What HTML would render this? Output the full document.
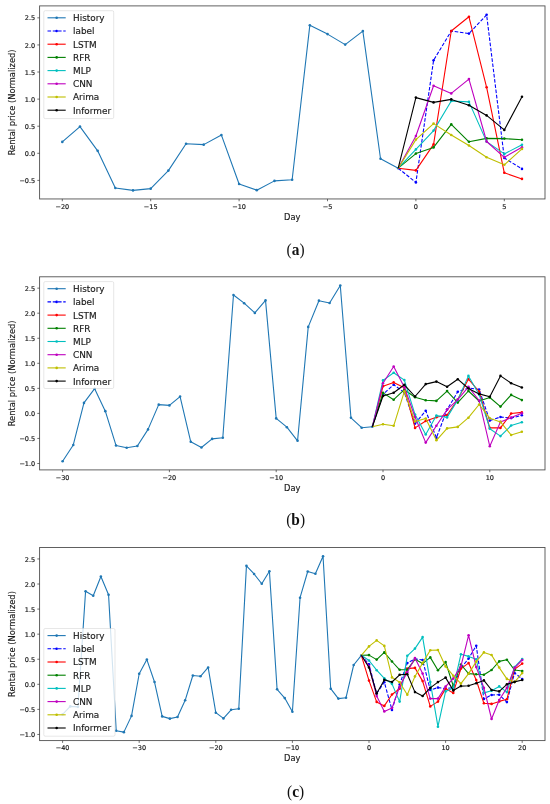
<!DOCTYPE html>
<html lang="en">
<head>
<meta charset="utf-8">
<title>Rental price forecasts</title>
<style>
html,body{margin:0;padding:0;background:#ffffff;}
body{width:550px;height:804px;overflow:hidden;}
svg{display:block;}
</style>
</head>
<body>
<svg width="550" height="804" viewBox="0 0 550 804">
<rect width="550" height="804" fill="#ffffff"/>
<g id="chart1">
<clipPath id="clip1"><rect x="39.6" y="5.9" width="505.4" height="193.05"/></clipPath>
<g clip-path="url(#clip1)">
<polyline points="62.3,141.92 79.98,126.59 97.66,150.86 115.34,187.98 133.02,190.41 150.7,188.63 168.38,170.58 186.06,143.82 203.74,144.63 221.42,135.1 239.1,183.97 256.78,190.14 274.46,180.88 292.14,179.69 309.82,25.33 327.5,34.1 345.18,44.61 362.86,31.12 380.54,158.72 398.22,168.2" fill="none" stroke="#1f77b4" stroke-width="1.1" stroke-linejoin="round"/>
<g fill="#1f77b4"><circle cx="62.3" cy="141.92" r="1.3"/><circle cx="79.98" cy="126.59" r="1.3"/><circle cx="97.66" cy="150.86" r="1.3"/><circle cx="115.34" cy="187.98" r="1.3"/><circle cx="133.02" cy="190.41" r="1.3"/><circle cx="150.7" cy="188.63" r="1.3"/><circle cx="168.38" cy="170.58" r="1.3"/><circle cx="186.06" cy="143.82" r="1.3"/><circle cx="203.74" cy="144.63" r="1.3"/><circle cx="221.42" cy="135.1" r="1.3"/><circle cx="239.1" cy="183.97" r="1.3"/><circle cx="256.78" cy="190.14" r="1.3"/><circle cx="274.46" cy="180.88" r="1.3"/><circle cx="292.14" cy="179.69" r="1.3"/><circle cx="309.82" cy="25.33" r="1.3"/><circle cx="327.5" cy="34.1" r="1.3"/><circle cx="345.18" cy="44.61" r="1.3"/><circle cx="362.86" cy="31.12" r="1.3"/><circle cx="380.54" cy="158.72" r="1.3"/><circle cx="398.22" cy="168.2" r="1.3"/></g>
<polyline points="398.22,168.2 415.9,182.4 433.58,60.3 451.26,31 468.94,33.6 486.62,14.8 504.3,158 521.98,168.9" fill="none" stroke="#0000ff" stroke-width="1.1" stroke-linejoin="round" stroke-dasharray="3.6 1.65"/>
<g fill="#0000ff"><circle cx="415.9" cy="182.4" r="1.3"/><circle cx="433.58" cy="60.3" r="1.3"/><circle cx="451.26" cy="31" r="1.3"/><circle cx="468.94" cy="33.6" r="1.3"/><circle cx="486.62" cy="14.8" r="1.3"/><circle cx="504.3" cy="158" r="1.3"/><circle cx="521.98" cy="168.9" r="1.3"/></g>
<polyline points="398.22,168.2 415.9,170.4 433.58,144.4 451.26,31 468.94,16.8 486.62,87.3 504.3,172.8 521.98,178.9" fill="none" stroke="#ff0000" stroke-width="1.1" stroke-linejoin="round"/>
<g fill="#ff0000"><circle cx="415.9" cy="170.4" r="1.3"/><circle cx="433.58" cy="144.4" r="1.3"/><circle cx="451.26" cy="31" r="1.3"/><circle cx="468.94" cy="16.8" r="1.3"/><circle cx="486.62" cy="87.3" r="1.3"/><circle cx="504.3" cy="172.8" r="1.3"/><circle cx="521.98" cy="178.9" r="1.3"/></g>
<polyline points="398.22,168.2 415.9,153.6 433.58,147.4 451.26,124.4 468.94,141.8 486.62,138.4 504.3,138.6 521.98,139.7" fill="none" stroke="#008000" stroke-width="1.1" stroke-linejoin="round"/>
<g fill="#008000"><circle cx="415.9" cy="153.6" r="1.3"/><circle cx="433.58" cy="147.4" r="1.3"/><circle cx="451.26" cy="124.4" r="1.3"/><circle cx="468.94" cy="141.8" r="1.3"/><circle cx="486.62" cy="138.4" r="1.3"/><circle cx="504.3" cy="138.6" r="1.3"/><circle cx="521.98" cy="139.7" r="1.3"/></g>
<polyline points="398.22,168.2 415.9,149.4 433.58,130.6 451.26,101 468.94,101.9 486.62,141.6 504.3,153.9 521.98,144.8" fill="none" stroke="#00bfbf" stroke-width="1.1" stroke-linejoin="round"/>
<g fill="#00bfbf"><circle cx="415.9" cy="149.4" r="1.3"/><circle cx="433.58" cy="130.6" r="1.3"/><circle cx="451.26" cy="101" r="1.3"/><circle cx="468.94" cy="101.9" r="1.3"/><circle cx="486.62" cy="141.6" r="1.3"/><circle cx="504.3" cy="153.9" r="1.3"/><circle cx="521.98" cy="144.8" r="1.3"/></g>
<polyline points="398.22,168.2 415.9,136 433.58,85.8 451.26,93.4 468.94,79.1 486.62,141.5 504.3,157.3 521.98,147.2" fill="none" stroke="#bf00bf" stroke-width="1.1" stroke-linejoin="round"/>
<g fill="#bf00bf"><circle cx="415.9" cy="136" r="1.3"/><circle cx="433.58" cy="85.8" r="1.3"/><circle cx="451.26" cy="93.4" r="1.3"/><circle cx="468.94" cy="79.1" r="1.3"/><circle cx="486.62" cy="141.5" r="1.3"/><circle cx="504.3" cy="157.3" r="1.3"/><circle cx="521.98" cy="147.2" r="1.3"/></g>
<polyline points="398.22,168.2 415.9,139.6 433.58,123.6 451.26,135 468.94,145.5 486.62,157.2 504.3,164.8 521.98,148.9" fill="none" stroke="#bfbf00" stroke-width="1.1" stroke-linejoin="round"/>
<g fill="#bfbf00"><circle cx="415.9" cy="139.6" r="1.3"/><circle cx="433.58" cy="123.6" r="1.3"/><circle cx="451.26" cy="135" r="1.3"/><circle cx="468.94" cy="145.5" r="1.3"/><circle cx="486.62" cy="157.2" r="1.3"/><circle cx="504.3" cy="164.8" r="1.3"/><circle cx="521.98" cy="148.9" r="1.3"/></g>
<polyline points="398.22,168.2 415.9,97.6 433.58,102.4 451.26,99.4 468.94,105.3 486.62,115.4 504.3,129.9 521.98,96.8" fill="none" stroke="#000000" stroke-width="1.1" stroke-linejoin="round"/>
<g fill="#000000"><circle cx="415.9" cy="97.6" r="1.3"/><circle cx="433.58" cy="102.4" r="1.3"/><circle cx="451.26" cy="99.4" r="1.3"/><circle cx="468.94" cy="105.3" r="1.3"/><circle cx="486.62" cy="115.4" r="1.3"/><circle cx="504.3" cy="129.9" r="1.3"/><circle cx="521.98" cy="96.8" r="1.3"/></g>
</g>
<rect x="39.6" y="5.9" width="505.4" height="193.05" fill="none" stroke="#505050" stroke-width="0.9"/>
<path d="M62.3 198.95v2.3M150.7 198.95v2.3M239.1 198.95v2.3M327.5 198.95v2.3M415.9 198.95v2.3M504.3 198.95v2.3M39.6 180.39h-2.3M39.6 153.3h-2.3M39.6 126.21h-2.3M39.6 99.12h-2.3M39.6 72.03h-2.3M39.6 44.94h-2.3M39.6 17.85h-2.3" stroke="#333333" stroke-width="0.7" fill="none"/>
<g font-family="'DejaVu Sans','Liberation Sans',sans-serif" font-size="6.5" fill="#1a1a1a" stroke="#1a1a1a" stroke-width="0.18">
<text x="62.3" y="208.75" text-anchor="middle">−20</text>
<text x="150.7" y="208.75" text-anchor="middle">−15</text>
<text x="239.1" y="208.75" text-anchor="middle">−10</text>
<text x="327.5" y="208.75" text-anchor="middle">−5</text>
<text x="415.9" y="208.75" text-anchor="middle">0</text>
<text x="504.3" y="208.75" text-anchor="middle">5</text>
<text x="35.2" y="182.99" text-anchor="end">−0.5</text>
<text x="35.2" y="155.9" text-anchor="end">0.0</text>
<text x="35.2" y="128.81" text-anchor="end">0.5</text>
<text x="35.2" y="101.72" text-anchor="end">1.0</text>
<text x="35.2" y="74.63" text-anchor="end">1.5</text>
<text x="35.2" y="47.54" text-anchor="end">2.0</text>
<text x="35.2" y="20.45" text-anchor="end">2.5</text>
</g>
<g font-family="'DejaVu Sans','Liberation Sans',sans-serif" font-size="8.3" fill="#1a1a1a" stroke="#1a1a1a" stroke-width="0.15" text-anchor="middle">
<text x="292.3" y="219.55">Day</text>
<text transform="translate(14.8 102.42) rotate(-90)">Rental price (Normalized)</text>
</g>
<rect x="43.8" y="10.7" width="69.9" height="107.9" rx="1.4" fill="#ffffff" fill-opacity="0.8" stroke="#cccccc" stroke-opacity="0.8" stroke-width="0.6"/>
<g font-family="'DejaVu Sans','Liberation Sans',sans-serif" font-size="8.9" fill="#1a1a1a" stroke-width="0.15">
<path d="M47.5 17.8H65.7" stroke="#1f77b4" stroke-width="1.1"/>
<circle cx="56.65" cy="17.8" r="1.3" fill="#1f77b4"/>
<text x="73" y="21.2" stroke="#1a1a1a">History</text>
<path d="M47.5 31H65.7" stroke="#0000ff" stroke-width="1.1" stroke-dasharray="3.6 1.65"/>
<circle cx="56.65" cy="31" r="1.3" fill="#0000ff"/>
<text x="73" y="34.4" stroke="#1a1a1a">label</text>
<path d="M47.5 44.2H65.7" stroke="#ff0000" stroke-width="1.1"/>
<circle cx="56.65" cy="44.2" r="1.3" fill="#ff0000"/>
<text x="73" y="47.6" stroke="#1a1a1a">LSTM</text>
<path d="M47.5 57.4H65.7" stroke="#008000" stroke-width="1.1"/>
<circle cx="56.65" cy="57.4" r="1.3" fill="#008000"/>
<text x="73" y="60.8" stroke="#1a1a1a">RFR</text>
<path d="M47.5 70.6H65.7" stroke="#00bfbf" stroke-width="1.1"/>
<circle cx="56.65" cy="70.6" r="1.3" fill="#00bfbf"/>
<text x="73" y="74" stroke="#1a1a1a">MLP</text>
<path d="M47.5 83.8H65.7" stroke="#bf00bf" stroke-width="1.1"/>
<circle cx="56.65" cy="83.8" r="1.3" fill="#bf00bf"/>
<text x="73" y="87.2" stroke="#1a1a1a">CNN</text>
<path d="M47.5 97H65.7" stroke="#bfbf00" stroke-width="1.1"/>
<circle cx="56.65" cy="97" r="1.3" fill="#bfbf00"/>
<text x="73" y="100.4" stroke="#1a1a1a">Arima</text>
<path d="M47.5 110.2H65.7" stroke="#000000" stroke-width="1.1"/>
<circle cx="56.65" cy="110.2" r="1.3" fill="#000000"/>
<text x="73" y="113.6" stroke="#1a1a1a">Informer</text>
</g>
<text transform="translate(295.6 254.9) scale(0.97 1)" text-anchor="middle" font-family="'Liberation Serif','DejaVu Serif',serif" font-size="15.9" fill="#111111">(<tspan font-weight="bold">a</tspan>)</text>
</g>
<g id="chart2">
<clipPath id="clip2"><rect x="39.6" y="276.8" width="505.4" height="193.1"/></clipPath>
<g clip-path="url(#clip2)">
<polyline points="62.6,461.2 73.28,444.96 83.96,402.88 94.64,388.7 105.32,411.15 116,445.46 126.68,447.72 137.36,446.07 148.04,429.38 158.72,404.63 169.4,405.38 180.08,396.57 190.76,441.76 201.44,447.47 212.12,438.9 222.8,437.8 233.48,295.06 244.16,303.18 254.84,312.9 265.52,300.42 276.2,418.41 286.88,427.18 297.56,440.8 308.24,326.88 318.92,300.67 329.6,302.98 340.28,285.49 350.96,417.81 361.64,427.68 372.32,426.78" fill="none" stroke="#1f77b4" stroke-width="1.1" stroke-linejoin="round"/>
<g fill="#1f77b4"><circle cx="62.6" cy="461.2" r="1.3"/><circle cx="73.28" cy="444.96" r="1.3"/><circle cx="83.96" cy="402.88" r="1.3"/><circle cx="94.64" cy="388.7" r="1.3"/><circle cx="105.32" cy="411.15" r="1.3"/><circle cx="116" cy="445.46" r="1.3"/><circle cx="126.68" cy="447.72" r="1.3"/><circle cx="137.36" cy="446.07" r="1.3"/><circle cx="148.04" cy="429.38" r="1.3"/><circle cx="158.72" cy="404.63" r="1.3"/><circle cx="169.4" cy="405.38" r="1.3"/><circle cx="180.08" cy="396.57" r="1.3"/><circle cx="190.76" cy="441.76" r="1.3"/><circle cx="201.44" cy="447.47" r="1.3"/><circle cx="212.12" cy="438.9" r="1.3"/><circle cx="222.8" cy="437.8" r="1.3"/><circle cx="233.48" cy="295.06" r="1.3"/><circle cx="244.16" cy="303.18" r="1.3"/><circle cx="254.84" cy="312.9" r="1.3"/><circle cx="265.52" cy="300.42" r="1.3"/><circle cx="276.2" cy="418.41" r="1.3"/><circle cx="286.88" cy="427.18" r="1.3"/><circle cx="297.56" cy="440.8" r="1.3"/><circle cx="308.24" cy="326.88" r="1.3"/><circle cx="318.92" cy="300.67" r="1.3"/><circle cx="329.6" cy="302.98" r="1.3"/><circle cx="340.28" cy="285.49" r="1.3"/><circle cx="350.96" cy="417.81" r="1.3"/><circle cx="361.64" cy="427.68" r="1.3"/><circle cx="372.32" cy="426.78" r="1.3"/></g>
<polyline points="372.32,426.78 383,394.3 393.68,384.7 404.36,392.5 415.04,423.6 425.72,410.8 436.4,437.8 447.08,409.6 457.76,391.8 468.44,387.9 479.12,389.5 489.8,420.6 500.48,417 511.16,418.1 521.84,415.3" fill="none" stroke="#0000ff" stroke-width="1.1" stroke-linejoin="round" stroke-dasharray="3.6 1.65"/>
<g fill="#0000ff"><circle cx="383" cy="394.3" r="1.3"/><circle cx="393.68" cy="384.7" r="1.3"/><circle cx="404.36" cy="392.5" r="1.3"/><circle cx="415.04" cy="423.6" r="1.3"/><circle cx="425.72" cy="410.8" r="1.3"/><circle cx="436.4" cy="437.8" r="1.3"/><circle cx="447.08" cy="409.6" r="1.3"/><circle cx="457.76" cy="391.8" r="1.3"/><circle cx="468.44" cy="387.9" r="1.3"/><circle cx="479.12" cy="389.5" r="1.3"/><circle cx="489.8" cy="420.6" r="1.3"/><circle cx="500.48" cy="417" r="1.3"/><circle cx="511.16" cy="418.1" r="1.3"/><circle cx="521.84" cy="415.3" r="1.3"/></g>
<polyline points="372.32,426.78 383,386.3 393.68,382.4 404.36,387.7 415.04,427.9 425.72,421 436.4,417.3 447.08,415 457.76,399.6 468.44,379.1 479.12,391.5 489.8,427.9 500.48,427.9 511.16,413.5 521.84,412.4" fill="none" stroke="#ff0000" stroke-width="1.1" stroke-linejoin="round"/>
<g fill="#ff0000"><circle cx="383" cy="386.3" r="1.3"/><circle cx="393.68" cy="382.4" r="1.3"/><circle cx="404.36" cy="387.7" r="1.3"/><circle cx="415.04" cy="427.9" r="1.3"/><circle cx="425.72" cy="421" r="1.3"/><circle cx="436.4" cy="417.3" r="1.3"/><circle cx="447.08" cy="415" r="1.3"/><circle cx="457.76" cy="399.6" r="1.3"/><circle cx="468.44" cy="379.1" r="1.3"/><circle cx="479.12" cy="391.5" r="1.3"/><circle cx="489.8" cy="427.9" r="1.3"/><circle cx="500.48" cy="427.9" r="1.3"/><circle cx="511.16" cy="413.5" r="1.3"/><circle cx="521.84" cy="412.4" r="1.3"/></g>
<polyline points="372.32,426.78 383,392.9 393.68,399.7 404.36,389.7 415.04,397.3 425.72,400.3 436.4,400.9 447.08,391.1 457.76,402.6 468.44,391 479.12,401 489.8,397.5 500.48,406.6 511.16,394.9 521.84,400.1" fill="none" stroke="#008000" stroke-width="1.1" stroke-linejoin="round"/>
<g fill="#008000"><circle cx="383" cy="392.9" r="1.3"/><circle cx="393.68" cy="399.7" r="1.3"/><circle cx="404.36" cy="389.7" r="1.3"/><circle cx="415.04" cy="397.3" r="1.3"/><circle cx="425.72" cy="400.3" r="1.3"/><circle cx="436.4" cy="400.9" r="1.3"/><circle cx="447.08" cy="391.1" r="1.3"/><circle cx="457.76" cy="402.6" r="1.3"/><circle cx="468.44" cy="391" r="1.3"/><circle cx="479.12" cy="401" r="1.3"/><circle cx="489.8" cy="397.5" r="1.3"/><circle cx="500.48" cy="406.6" r="1.3"/><circle cx="511.16" cy="394.9" r="1.3"/><circle cx="521.84" cy="400.1" r="1.3"/></g>
<polyline points="372.32,426.78 383,380.4 393.68,372.7 404.36,380.1 415.04,414.6 425.72,434.5 436.4,415.6 447.08,417.4 457.76,399.9 468.44,375.9 479.12,394.4 489.8,428.7 500.48,436.1 511.16,425.5 521.84,422.2" fill="none" stroke="#00bfbf" stroke-width="1.1" stroke-linejoin="round"/>
<g fill="#00bfbf"><circle cx="383" cy="380.4" r="1.3"/><circle cx="393.68" cy="372.7" r="1.3"/><circle cx="404.36" cy="380.1" r="1.3"/><circle cx="415.04" cy="414.6" r="1.3"/><circle cx="425.72" cy="434.5" r="1.3"/><circle cx="436.4" cy="415.6" r="1.3"/><circle cx="447.08" cy="417.4" r="1.3"/><circle cx="457.76" cy="399.9" r="1.3"/><circle cx="468.44" cy="375.9" r="1.3"/><circle cx="479.12" cy="394.4" r="1.3"/><circle cx="489.8" cy="428.7" r="1.3"/><circle cx="500.48" cy="436.1" r="1.3"/><circle cx="511.16" cy="425.5" r="1.3"/><circle cx="521.84" cy="422.2" r="1.3"/></g>
<polyline points="372.32,426.78 383,383.3 393.68,366.5 404.36,387.2 415.04,417 425.72,442.6 436.4,425.8 447.08,409.6 457.76,399.6 468.44,386.9 479.12,400.5 489.8,446.3 500.48,421.9 511.16,417.6 521.84,413.2" fill="none" stroke="#bf00bf" stroke-width="1.1" stroke-linejoin="round"/>
<g fill="#bf00bf"><circle cx="383" cy="383.3" r="1.3"/><circle cx="393.68" cy="366.5" r="1.3"/><circle cx="404.36" cy="387.2" r="1.3"/><circle cx="415.04" cy="417" r="1.3"/><circle cx="425.72" cy="442.6" r="1.3"/><circle cx="436.4" cy="425.8" r="1.3"/><circle cx="447.08" cy="409.6" r="1.3"/><circle cx="457.76" cy="399.6" r="1.3"/><circle cx="468.44" cy="386.9" r="1.3"/><circle cx="479.12" cy="400.5" r="1.3"/><circle cx="489.8" cy="446.3" r="1.3"/><circle cx="500.48" cy="421.9" r="1.3"/><circle cx="511.16" cy="417.6" r="1.3"/><circle cx="521.84" cy="413.2" r="1.3"/></g>
<polyline points="372.32,426.78 383,424.3 393.68,425.8 404.36,391.3 415.04,421.5 425.72,418.5 436.4,440.3 447.08,428.4 457.76,426.9 468.44,417.7 479.12,404.5 489.8,418.2 500.48,421.9 511.16,435 521.84,431.7" fill="none" stroke="#bfbf00" stroke-width="1.1" stroke-linejoin="round"/>
<g fill="#bfbf00"><circle cx="383" cy="424.3" r="1.3"/><circle cx="393.68" cy="425.8" r="1.3"/><circle cx="404.36" cy="391.3" r="1.3"/><circle cx="415.04" cy="421.5" r="1.3"/><circle cx="425.72" cy="418.5" r="1.3"/><circle cx="436.4" cy="440.3" r="1.3"/><circle cx="447.08" cy="428.4" r="1.3"/><circle cx="457.76" cy="426.9" r="1.3"/><circle cx="468.44" cy="417.7" r="1.3"/><circle cx="479.12" cy="404.5" r="1.3"/><circle cx="489.8" cy="418.2" r="1.3"/><circle cx="500.48" cy="421.9" r="1.3"/><circle cx="511.16" cy="435" r="1.3"/><circle cx="521.84" cy="431.7" r="1.3"/></g>
<polyline points="372.32,426.78 383,396 393.68,392.8 404.36,384.8 415.04,396.5 425.72,384.1 436.4,381.6 447.08,386.7 457.76,379.2 468.44,388.5 479.12,393.9 489.8,396.8 500.48,375.9 511.16,383.2 521.84,387.5" fill="none" stroke="#000000" stroke-width="1.1" stroke-linejoin="round"/>
<g fill="#000000"><circle cx="383" cy="396" r="1.3"/><circle cx="393.68" cy="392.8" r="1.3"/><circle cx="404.36" cy="384.8" r="1.3"/><circle cx="415.04" cy="396.5" r="1.3"/><circle cx="425.72" cy="384.1" r="1.3"/><circle cx="436.4" cy="381.6" r="1.3"/><circle cx="447.08" cy="386.7" r="1.3"/><circle cx="457.76" cy="379.2" r="1.3"/><circle cx="468.44" cy="388.5" r="1.3"/><circle cx="479.12" cy="393.9" r="1.3"/><circle cx="489.8" cy="396.8" r="1.3"/><circle cx="500.48" cy="375.9" r="1.3"/><circle cx="511.16" cy="383.2" r="1.3"/><circle cx="521.84" cy="387.5" r="1.3"/></g>
</g>
<rect x="39.6" y="276.8" width="505.4" height="193.1" fill="none" stroke="#505050" stroke-width="0.9"/>
<path d="M62.6 469.9v2.3M169.4 469.9v2.3M276.2 469.9v2.3M383 469.9v2.3M489.8 469.9v2.3M39.6 463.5h-2.3M39.6 438.45h-2.3M39.6 413.4h-2.3M39.6 388.35h-2.3M39.6 363.3h-2.3M39.6 338.25h-2.3M39.6 313.2h-2.3M39.6 288.15h-2.3" stroke="#333333" stroke-width="0.7" fill="none"/>
<g font-family="'DejaVu Sans','Liberation Sans',sans-serif" font-size="6.5" fill="#1a1a1a" stroke="#1a1a1a" stroke-width="0.18">
<text x="62.6" y="479.7" text-anchor="middle">−30</text>
<text x="169.4" y="479.7" text-anchor="middle">−20</text>
<text x="276.2" y="479.7" text-anchor="middle">−10</text>
<text x="383" y="479.7" text-anchor="middle">0</text>
<text x="489.8" y="479.7" text-anchor="middle">10</text>
<text x="35.2" y="466.1" text-anchor="end">−1.0</text>
<text x="35.2" y="441.05" text-anchor="end">−0.5</text>
<text x="35.2" y="416" text-anchor="end">0.0</text>
<text x="35.2" y="390.95" text-anchor="end">0.5</text>
<text x="35.2" y="365.9" text-anchor="end">1.0</text>
<text x="35.2" y="340.85" text-anchor="end">1.5</text>
<text x="35.2" y="315.8" text-anchor="end">2.0</text>
<text x="35.2" y="290.75" text-anchor="end">2.5</text>
</g>
<g font-family="'DejaVu Sans','Liberation Sans',sans-serif" font-size="8.3" fill="#1a1a1a" stroke="#1a1a1a" stroke-width="0.15" text-anchor="middle">
<text x="292.3" y="490.5">Day</text>
<text transform="translate(14.8 373.35) rotate(-90)">Rental price (Normalized)</text>
</g>
<rect x="43.8" y="281.6" width="69.9" height="106.9" rx="1.4" fill="#ffffff" fill-opacity="0.8" stroke="#cccccc" stroke-opacity="0.8" stroke-width="0.6"/>
<g font-family="'DejaVu Sans','Liberation Sans',sans-serif" font-size="8.9" fill="#1a1a1a" stroke-width="0.15">
<path d="M47.5 288.7H65.7" stroke="#1f77b4" stroke-width="1.1"/>
<circle cx="56.65" cy="288.7" r="1.3" fill="#1f77b4"/>
<text x="73" y="292.1" stroke="#1a1a1a">History</text>
<path d="M47.5 301.9H65.7" stroke="#0000ff" stroke-width="1.1" stroke-dasharray="3.6 1.65"/>
<circle cx="56.65" cy="301.9" r="1.3" fill="#0000ff"/>
<text x="73" y="305.3" stroke="#1a1a1a">label</text>
<path d="M47.5 315.1H65.7" stroke="#ff0000" stroke-width="1.1"/>
<circle cx="56.65" cy="315.1" r="1.3" fill="#ff0000"/>
<text x="73" y="318.5" stroke="#1a1a1a">LSTM</text>
<path d="M47.5 328.3H65.7" stroke="#008000" stroke-width="1.1"/>
<circle cx="56.65" cy="328.3" r="1.3" fill="#008000"/>
<text x="73" y="331.7" stroke="#1a1a1a">RFR</text>
<path d="M47.5 341.5H65.7" stroke="#00bfbf" stroke-width="1.1"/>
<circle cx="56.65" cy="341.5" r="1.3" fill="#00bfbf"/>
<text x="73" y="344.9" stroke="#1a1a1a">MLP</text>
<path d="M47.5 354.7H65.7" stroke="#bf00bf" stroke-width="1.1"/>
<circle cx="56.65" cy="354.7" r="1.3" fill="#bf00bf"/>
<text x="73" y="358.1" stroke="#1a1a1a">CNN</text>
<path d="M47.5 367.9H65.7" stroke="#bfbf00" stroke-width="1.1"/>
<circle cx="56.65" cy="367.9" r="1.3" fill="#bfbf00"/>
<text x="73" y="371.3" stroke="#1a1a1a">Arima</text>
<path d="M47.5 381.1H65.7" stroke="#000000" stroke-width="1.1"/>
<circle cx="56.65" cy="381.1" r="1.3" fill="#000000"/>
<text x="73" y="384.5" stroke="#1a1a1a">Informer</text>
</g>
<text transform="translate(295.6 525.1) scale(0.97 1)" text-anchor="middle" font-family="'Liberation Serif','DejaVu Serif',serif" font-size="15.9" fill="#111111">(<tspan font-weight="bold">b</tspan>)</text>
</g>
<g id="chart3">
<clipPath id="clip3"><rect x="39.6" y="547.5" width="505.4" height="193.1"/></clipPath>
<g clip-path="url(#clip3)">
<polyline points="62.6,714.38 70.26,706.36 77.92,706.86 85.58,591.19 93.24,595.7 100.9,576.45 108.56,594.7 116.22,730.73 123.88,732.13 131.54,715.89 139.2,673.77 146.86,659.58 154.52,682.04 162.18,716.39 169.84,718.65 177.5,716.99 185.16,700.29 192.82,675.53 200.48,676.28 208.14,667.45 215.8,712.68 223.46,718.4 231.12,709.82 238.78,708.72 246.44,565.87 254.1,573.99 261.76,583.72 269.42,571.23 277.08,689.31 284.74,698.09 292.4,711.73 300.06,597.71 307.72,571.48 315.38,573.79 323.04,556.29 330.7,688.71 338.36,698.59 346.02,697.69 353.68,665 361.34,655.32" fill="none" stroke="#1f77b4" stroke-width="1.1" stroke-linejoin="round"/>
<g fill="#1f77b4"><circle cx="62.6" cy="714.38" r="1.3"/><circle cx="70.26" cy="706.36" r="1.3"/><circle cx="77.92" cy="706.86" r="1.3"/><circle cx="85.58" cy="591.19" r="1.3"/><circle cx="93.24" cy="595.7" r="1.3"/><circle cx="100.9" cy="576.45" r="1.3"/><circle cx="108.56" cy="594.7" r="1.3"/><circle cx="116.22" cy="730.73" r="1.3"/><circle cx="123.88" cy="732.13" r="1.3"/><circle cx="131.54" cy="715.89" r="1.3"/><circle cx="139.2" cy="673.77" r="1.3"/><circle cx="146.86" cy="659.58" r="1.3"/><circle cx="154.52" cy="682.04" r="1.3"/><circle cx="162.18" cy="716.39" r="1.3"/><circle cx="169.84" cy="718.65" r="1.3"/><circle cx="177.5" cy="716.99" r="1.3"/><circle cx="185.16" cy="700.29" r="1.3"/><circle cx="192.82" cy="675.53" r="1.3"/><circle cx="200.48" cy="676.28" r="1.3"/><circle cx="208.14" cy="667.45" r="1.3"/><circle cx="215.8" cy="712.68" r="1.3"/><circle cx="223.46" cy="718.4" r="1.3"/><circle cx="231.12" cy="709.82" r="1.3"/><circle cx="238.78" cy="708.72" r="1.3"/><circle cx="246.44" cy="565.87" r="1.3"/><circle cx="254.1" cy="573.99" r="1.3"/><circle cx="261.76" cy="583.72" r="1.3"/><circle cx="269.42" cy="571.23" r="1.3"/><circle cx="277.08" cy="689.31" r="1.3"/><circle cx="284.74" cy="698.09" r="1.3"/><circle cx="292.4" cy="711.73" r="1.3"/><circle cx="300.06" cy="597.71" r="1.3"/><circle cx="307.72" cy="571.48" r="1.3"/><circle cx="315.38" cy="573.79" r="1.3"/><circle cx="323.04" cy="556.29" r="1.3"/><circle cx="330.7" cy="688.71" r="1.3"/><circle cx="338.36" cy="698.59" r="1.3"/><circle cx="346.02" cy="697.69" r="1.3"/><circle cx="353.68" cy="665" r="1.3"/><circle cx="361.34" cy="655.32" r="1.3"/></g>
<polyline points="361.34,655.32 369,664.3 376.66,693.5 384.32,682.2 391.98,709.9 399.64,684.5 407.3,663 414.96,658.9 422.62,660 430.28,690 437.94,687.6 445.6,688.6 453.26,687.5 460.92,667.9 468.58,658.6 476.24,645.7 483.9,699 491.56,695 499.22,694.7 506.88,702.1 514.54,672.9 522.2,679" fill="none" stroke="#0000ff" stroke-width="1.1" stroke-linejoin="round" stroke-dasharray="3.6 1.65"/>
<g fill="#0000ff"><circle cx="369" cy="664.3" r="1.3"/><circle cx="376.66" cy="693.5" r="1.3"/><circle cx="384.32" cy="682.2" r="1.3"/><circle cx="391.98" cy="709.9" r="1.3"/><circle cx="399.64" cy="684.5" r="1.3"/><circle cx="407.3" cy="663" r="1.3"/><circle cx="414.96" cy="658.9" r="1.3"/><circle cx="422.62" cy="660" r="1.3"/><circle cx="430.28" cy="690" r="1.3"/><circle cx="437.94" cy="687.6" r="1.3"/><circle cx="445.6" cy="688.6" r="1.3"/><circle cx="453.26" cy="687.5" r="1.3"/><circle cx="460.92" cy="667.9" r="1.3"/><circle cx="468.58" cy="658.6" r="1.3"/><circle cx="476.24" cy="645.7" r="1.3"/><circle cx="483.9" cy="699" r="1.3"/><circle cx="491.56" cy="695" r="1.3"/><circle cx="499.22" cy="694.7" r="1.3"/><circle cx="506.88" cy="702.1" r="1.3"/><circle cx="514.54" cy="672.9" r="1.3"/><circle cx="522.2" cy="679" r="1.3"/></g>
<polyline points="361.34,655.32 369,680.6 376.66,701.9 384.32,705.9 391.98,694.5 399.64,688.7 407.3,668.6 414.96,667.9 422.62,681.1 430.28,706.4 437.94,701.6 445.6,688.6 453.26,692.9 460.92,668.6 468.58,663.1 476.24,680 483.9,703.3 491.56,703.9 499.22,701.4 506.88,699.3 514.54,669.3 522.2,663.6" fill="none" stroke="#ff0000" stroke-width="1.1" stroke-linejoin="round"/>
<g fill="#ff0000"><circle cx="369" cy="680.6" r="1.3"/><circle cx="376.66" cy="701.9" r="1.3"/><circle cx="384.32" cy="705.9" r="1.3"/><circle cx="391.98" cy="694.5" r="1.3"/><circle cx="399.64" cy="688.7" r="1.3"/><circle cx="407.3" cy="668.6" r="1.3"/><circle cx="414.96" cy="667.9" r="1.3"/><circle cx="422.62" cy="681.1" r="1.3"/><circle cx="430.28" cy="706.4" r="1.3"/><circle cx="437.94" cy="701.6" r="1.3"/><circle cx="445.6" cy="688.6" r="1.3"/><circle cx="453.26" cy="692.9" r="1.3"/><circle cx="460.92" cy="668.6" r="1.3"/><circle cx="468.58" cy="663.1" r="1.3"/><circle cx="476.24" cy="680" r="1.3"/><circle cx="483.9" cy="703.3" r="1.3"/><circle cx="491.56" cy="703.9" r="1.3"/><circle cx="499.22" cy="701.4" r="1.3"/><circle cx="506.88" cy="699.3" r="1.3"/><circle cx="514.54" cy="669.3" r="1.3"/><circle cx="522.2" cy="663.6" r="1.3"/></g>
<polyline points="361.34,655.32 369,655.1 376.66,659.6 384.32,652.4 391.98,661.5 399.64,669.8 407.3,669.7 414.96,659.3 422.62,663.6 430.28,657.4 437.94,670.3 445.6,662.1 453.26,686 460.92,664.5 468.58,673.6 476.24,674.3 483.9,674.7 491.56,670 499.22,661.4 506.88,659.7 514.54,670 522.2,671" fill="none" stroke="#008000" stroke-width="1.1" stroke-linejoin="round"/>
<g fill="#008000"><circle cx="369" cy="655.1" r="1.3"/><circle cx="376.66" cy="659.6" r="1.3"/><circle cx="384.32" cy="652.4" r="1.3"/><circle cx="391.98" cy="661.5" r="1.3"/><circle cx="399.64" cy="669.8" r="1.3"/><circle cx="407.3" cy="669.7" r="1.3"/><circle cx="414.96" cy="659.3" r="1.3"/><circle cx="422.62" cy="663.6" r="1.3"/><circle cx="430.28" cy="657.4" r="1.3"/><circle cx="437.94" cy="670.3" r="1.3"/><circle cx="445.6" cy="662.1" r="1.3"/><circle cx="453.26" cy="686" r="1.3"/><circle cx="460.92" cy="664.5" r="1.3"/><circle cx="468.58" cy="673.6" r="1.3"/><circle cx="476.24" cy="674.3" r="1.3"/><circle cx="483.9" cy="674.7" r="1.3"/><circle cx="491.56" cy="670" r="1.3"/><circle cx="499.22" cy="661.4" r="1.3"/><circle cx="506.88" cy="659.7" r="1.3"/><circle cx="514.54" cy="670" r="1.3"/><circle cx="522.2" cy="671" r="1.3"/></g>
<polyline points="361.34,655.32 369,660.5 376.66,670.2 384.32,678.4 391.98,683.9 399.64,701.6 407.3,655.8 414.96,648.6 422.62,637.1 430.28,682.1 437.94,726.7 445.6,691.4 453.26,687.9 460.92,654.3 468.58,656.4 476.24,659.3 483.9,692.9 491.56,690.7 499.22,686.4 506.88,692.1 514.54,667.1 522.2,659" fill="none" stroke="#00bfbf" stroke-width="1.1" stroke-linejoin="round"/>
<g fill="#00bfbf"><circle cx="369" cy="660.5" r="1.3"/><circle cx="376.66" cy="670.2" r="1.3"/><circle cx="384.32" cy="678.4" r="1.3"/><circle cx="391.98" cy="683.9" r="1.3"/><circle cx="399.64" cy="701.6" r="1.3"/><circle cx="407.3" cy="655.8" r="1.3"/><circle cx="414.96" cy="648.6" r="1.3"/><circle cx="422.62" cy="637.1" r="1.3"/><circle cx="430.28" cy="682.1" r="1.3"/><circle cx="437.94" cy="726.7" r="1.3"/><circle cx="445.6" cy="691.4" r="1.3"/><circle cx="453.26" cy="687.9" r="1.3"/><circle cx="460.92" cy="654.3" r="1.3"/><circle cx="468.58" cy="656.4" r="1.3"/><circle cx="476.24" cy="659.3" r="1.3"/><circle cx="483.9" cy="692.9" r="1.3"/><circle cx="491.56" cy="690.7" r="1.3"/><circle cx="499.22" cy="686.4" r="1.3"/><circle cx="506.88" cy="692.1" r="1.3"/><circle cx="514.54" cy="667.1" r="1.3"/><circle cx="522.2" cy="659" r="1.3"/></g>
<polyline points="361.34,655.32 369,666 376.66,696.1 384.32,711.4 391.98,708.1 399.64,686.5 407.3,672.2 414.96,658.1 422.62,673.6 430.28,698.6 437.94,698.6 445.6,686.5 453.26,678.6 460.92,666.4 468.58,635.3 476.24,667.1 483.9,687.9 491.56,719 499.22,700 506.88,687.9 514.54,667.9 522.2,660" fill="none" stroke="#bf00bf" stroke-width="1.1" stroke-linejoin="round"/>
<g fill="#bf00bf"><circle cx="369" cy="666" r="1.3"/><circle cx="376.66" cy="696.1" r="1.3"/><circle cx="384.32" cy="711.4" r="1.3"/><circle cx="391.98" cy="708.1" r="1.3"/><circle cx="399.64" cy="686.5" r="1.3"/><circle cx="407.3" cy="672.2" r="1.3"/><circle cx="414.96" cy="658.1" r="1.3"/><circle cx="422.62" cy="673.6" r="1.3"/><circle cx="430.28" cy="698.6" r="1.3"/><circle cx="437.94" cy="698.6" r="1.3"/><circle cx="445.6" cy="686.5" r="1.3"/><circle cx="453.26" cy="678.6" r="1.3"/><circle cx="460.92" cy="666.4" r="1.3"/><circle cx="468.58" cy="635.3" r="1.3"/><circle cx="476.24" cy="667.1" r="1.3"/><circle cx="483.9" cy="687.9" r="1.3"/><circle cx="491.56" cy="719" r="1.3"/><circle cx="499.22" cy="700" r="1.3"/><circle cx="506.88" cy="687.9" r="1.3"/><circle cx="514.54" cy="667.9" r="1.3"/><circle cx="522.2" cy="660" r="1.3"/></g>
<polyline points="361.34,655.32 369,646.4 376.66,640.4 384.32,645.9 391.98,677.4 399.64,682.3 407.3,694.7 414.96,676.4 422.62,662.9 430.28,650.3 437.94,650 445.6,666.4 453.26,675.7 460.92,683.6 468.58,673.6 476.24,661.6 483.9,652.4 491.56,655 499.22,667.6 506.88,678.9 514.54,682.1 522.2,673.1" fill="none" stroke="#bfbf00" stroke-width="1.1" stroke-linejoin="round"/>
<g fill="#bfbf00"><circle cx="369" cy="646.4" r="1.3"/><circle cx="376.66" cy="640.4" r="1.3"/><circle cx="384.32" cy="645.9" r="1.3"/><circle cx="391.98" cy="677.4" r="1.3"/><circle cx="399.64" cy="682.3" r="1.3"/><circle cx="407.3" cy="694.7" r="1.3"/><circle cx="414.96" cy="676.4" r="1.3"/><circle cx="422.62" cy="662.9" r="1.3"/><circle cx="430.28" cy="650.3" r="1.3"/><circle cx="437.94" cy="650" r="1.3"/><circle cx="445.6" cy="666.4" r="1.3"/><circle cx="453.26" cy="675.7" r="1.3"/><circle cx="460.92" cy="683.6" r="1.3"/><circle cx="468.58" cy="673.6" r="1.3"/><circle cx="476.24" cy="661.6" r="1.3"/><circle cx="483.9" cy="652.4" r="1.3"/><circle cx="491.56" cy="655" r="1.3"/><circle cx="499.22" cy="667.6" r="1.3"/><circle cx="506.88" cy="678.9" r="1.3"/><circle cx="514.54" cy="682.1" r="1.3"/><circle cx="522.2" cy="673.1" r="1.3"/></g>
<polyline points="361.34,655.32 369,667.5 376.66,693.5 384.32,679.9 391.98,682 399.64,674.8 407.3,674.3 414.96,692.1 422.62,696 430.28,687.9 437.94,682.1 445.6,677.6 453.26,690.4 460.92,686.1 468.58,685.7 476.24,683.3 483.9,680.4 491.56,690 499.22,691.4 506.88,684.3 514.54,681.9 522.2,680" fill="none" stroke="#000000" stroke-width="1.1" stroke-linejoin="round"/>
<g fill="#000000"><circle cx="369" cy="667.5" r="1.3"/><circle cx="376.66" cy="693.5" r="1.3"/><circle cx="384.32" cy="679.9" r="1.3"/><circle cx="391.98" cy="682" r="1.3"/><circle cx="399.64" cy="674.8" r="1.3"/><circle cx="407.3" cy="674.3" r="1.3"/><circle cx="414.96" cy="692.1" r="1.3"/><circle cx="422.62" cy="696" r="1.3"/><circle cx="430.28" cy="687.9" r="1.3"/><circle cx="437.94" cy="682.1" r="1.3"/><circle cx="445.6" cy="677.6" r="1.3"/><circle cx="453.26" cy="690.4" r="1.3"/><circle cx="460.92" cy="686.1" r="1.3"/><circle cx="468.58" cy="685.7" r="1.3"/><circle cx="476.24" cy="683.3" r="1.3"/><circle cx="483.9" cy="680.4" r="1.3"/><circle cx="491.56" cy="690" r="1.3"/><circle cx="499.22" cy="691.4" r="1.3"/><circle cx="506.88" cy="684.3" r="1.3"/><circle cx="514.54" cy="681.9" r="1.3"/><circle cx="522.2" cy="680" r="1.3"/></g>
</g>
<rect x="39.6" y="547.5" width="505.4" height="193.1" fill="none" stroke="#505050" stroke-width="0.9"/>
<path d="M62.6 740.6v2.3M139.2 740.6v2.3M215.8 740.6v2.3M292.4 740.6v2.3M369 740.6v2.3M445.6 740.6v2.3M522.2 740.6v2.3M39.6 734.44h-2.3M39.6 709.37h-2.3M39.6 684.3h-2.3M39.6 659.23h-2.3M39.6 634.16h-2.3M39.6 609.09h-2.3M39.6 584.02h-2.3M39.6 558.95h-2.3" stroke="#333333" stroke-width="0.7" fill="none"/>
<g font-family="'DejaVu Sans','Liberation Sans',sans-serif" font-size="6.5" fill="#1a1a1a" stroke="#1a1a1a" stroke-width="0.18">
<text x="62.6" y="750.4" text-anchor="middle">−40</text>
<text x="139.2" y="750.4" text-anchor="middle">−30</text>
<text x="215.8" y="750.4" text-anchor="middle">−20</text>
<text x="292.4" y="750.4" text-anchor="middle">−10</text>
<text x="369" y="750.4" text-anchor="middle">0</text>
<text x="445.6" y="750.4" text-anchor="middle">10</text>
<text x="522.2" y="750.4" text-anchor="middle">20</text>
<text x="35.2" y="737.04" text-anchor="end">−1.0</text>
<text x="35.2" y="711.97" text-anchor="end">−0.5</text>
<text x="35.2" y="686.9" text-anchor="end">0.0</text>
<text x="35.2" y="661.83" text-anchor="end">0.5</text>
<text x="35.2" y="636.76" text-anchor="end">1.0</text>
<text x="35.2" y="611.69" text-anchor="end">1.5</text>
<text x="35.2" y="586.62" text-anchor="end">2.0</text>
<text x="35.2" y="561.55" text-anchor="end">2.5</text>
</g>
<g font-family="'DejaVu Sans','Liberation Sans',sans-serif" font-size="8.3" fill="#1a1a1a" stroke="#1a1a1a" stroke-width="0.15" text-anchor="middle">
<text x="292.3" y="761.2">Day</text>
<text transform="translate(14.8 644.05) rotate(-90)">Rental price (Normalized)</text>
</g>
<rect x="43.8" y="628.5" width="71.2" height="107.7" rx="1.4" fill="#ffffff" fill-opacity="0.8" stroke="#cccccc" stroke-opacity="0.8" stroke-width="0.6"/>
<g font-family="'DejaVu Sans','Liberation Sans',sans-serif" font-size="8.9" fill="#1a1a1a" stroke-width="0.15">
<path d="M47.5 635.6H65.7" stroke="#1f77b4" stroke-width="1.1"/>
<circle cx="56.65" cy="635.6" r="1.3" fill="#1f77b4"/>
<text x="73" y="639" stroke="#1a1a1a">History</text>
<path d="M47.5 648.8H65.7" stroke="#0000ff" stroke-width="1.1" stroke-dasharray="3.6 1.65"/>
<circle cx="56.65" cy="648.8" r="1.3" fill="#0000ff"/>
<text x="73" y="652.2" stroke="#1a1a1a">label</text>
<path d="M47.5 662H65.7" stroke="#ff0000" stroke-width="1.1"/>
<circle cx="56.65" cy="662" r="1.3" fill="#ff0000"/>
<text x="73" y="665.4" stroke="#1a1a1a">LSTM</text>
<path d="M47.5 675.2H65.7" stroke="#008000" stroke-width="1.1"/>
<circle cx="56.65" cy="675.2" r="1.3" fill="#008000"/>
<text x="73" y="678.6" stroke="#1a1a1a">RFR</text>
<path d="M47.5 688.4H65.7" stroke="#00bfbf" stroke-width="1.1"/>
<circle cx="56.65" cy="688.4" r="1.3" fill="#00bfbf"/>
<text x="73" y="691.8" stroke="#1a1a1a">MLP</text>
<path d="M47.5 701.6H65.7" stroke="#bf00bf" stroke-width="1.1"/>
<circle cx="56.65" cy="701.6" r="1.3" fill="#bf00bf"/>
<text x="73" y="705" stroke="#1a1a1a">CNN</text>
<path d="M47.5 714.8H65.7" stroke="#bfbf00" stroke-width="1.1"/>
<circle cx="56.65" cy="714.8" r="1.3" fill="#bfbf00"/>
<text x="73" y="718.2" stroke="#1a1a1a">Arima</text>
<path d="M47.5 728H65.7" stroke="#000000" stroke-width="1.1"/>
<circle cx="56.65" cy="728" r="1.3" fill="#000000"/>
<text x="73" y="731.4" stroke="#1a1a1a">Informer</text>
</g>
<text transform="translate(295.6 796.6) scale(0.97 1)" text-anchor="middle" font-family="'Liberation Serif','DejaVu Serif',serif" font-size="15.9" fill="#111111">(<tspan font-weight="bold">c</tspan>)</text>
</g>
</svg>
</body>
</html>
